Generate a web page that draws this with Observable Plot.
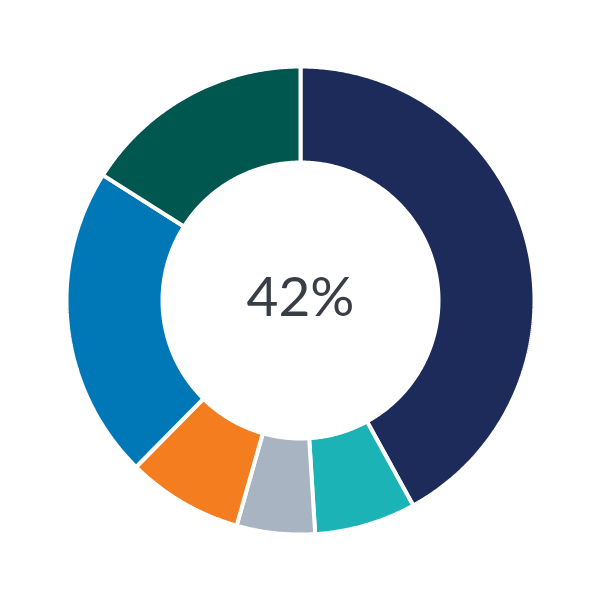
<!DOCTYPE html>
<html>
<head>
<meta charset="utf-8">
<script src="https://cdn.jsdelivr.net/npm/d3@7"></script>
<script src="https://cdn.jsdelivr.net/npm/@observablehq/plot@0.6"></script>
<style>
  html, body { margin: 0; padding: 0; background: #fff; }
  #chart { width: 600px; height: 600px; }
</style>
</head>
<body>
<div id="chart"></div>
<script>
const categories = ["A", "B", "C", "D", "E", "F"];
const shares = [42, 7, 5.4, 8, 21.6, 16];
const colors = ["#1c2b5a", "#1bb3b5", "#a9b4c2", "#f47d20", "#0077b6", "#00574f"];
const centerLabel = "42%";

const outerR = 0.78;
const innerR = 0.46;

const pie = d3.pie().sort(null).value(d => d.value)(
  categories.map((c, i) => ({category: c, value: shares[i]}))
);

function arcPolygon(a0, a1) {
  const n = Math.max(2, Math.ceil((a1 - a0) / (Math.PI / 360)));
  const pts = [];
  for (let k = 0; k <= n; k++) {
    const a = a0 + (a1 - a0) * k / n;
    pts.push([outerR * Math.sin(a), outerR * Math.cos(a)]);
  }
  for (let k = n; k >= 0; k--) {
    const a = a0 + (a1 - a0) * k / n;
    pts.push([innerR * Math.sin(a), innerR * Math.cos(a)]);
  }
  pts.push(pts[0]);
  return pts;
}

const features = pie.map(p => ({
  type: "Feature",
  properties: {category: p.data.category},
  geometry: {type: "Polygon", coordinates: [arcPolygon(p.startAngle, p.endAngle)]}
}));

const chart = Plot.plot({
  width: 600,
  height: 600,
  margin: 0,
  projection: {
    type: "reflect-y",
    domain: {type: "MultiPoint", coordinates: [[-1, -1], [1, 1]]},
    inset: 0
  },
  color: {domain: categories, range: colors},
  marks: [
    Plot.geo(features, {
      fill: d => d.properties.category,
      stroke: "white",
      strokeWidth: 4,
      strokeLinejoin: "miter"
    }),
    Plot.text([centerLabel], {
      frameAnchor: "middle",
      text: d => d,
      fontSize: 55,
      fontFamily: "Lato",
      fill: "#383e47",
      dy: -2
    })
  ]
});
document.getElementById("chart").appendChild(chart);
</script>
</body>
</html>
